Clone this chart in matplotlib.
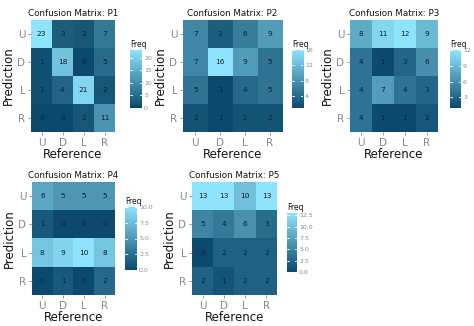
import numpy as np
import matplotlib
matplotlib.use("Agg")
import matplotlib.pyplot as plt
from matplotlib.colors import LinearSegmentedColormap, Normalize
from matplotlib.ticker import FormatStrFormatter

classes = ["U", "D", "L", "R"]

# rows = Prediction (U, D, L, R), columns = Reference (U, D, L, R)
p1 = [[23, 3, 2, 7], [1, 18, 0, 5], [1, 4, 21, 2], [0, 0, 2, 11]]
p2 = [[7, 3, 6, 9], [7, 16, 9, 5], [5, 1, 4, 5], [2, 1, 2, 2]]
p3 = [[8, 11, 12, 9], [4, 1, 3, 6], [4, 7, 4, 3], [4, 1, 1, 2]]
p4 = [[6, 5, 5, 5], [1, 0, 0, 0], [8, 9, 10, 8], [0, 1, 0, 2]]
p5 = [[13, 13, 10, 13], [5, 4, 6, 3], [0, 2, 2, 2], [2, 1, 2, 2]]

names = ["P1", "P2", "P3", "P4", "P5"]
matrices = [p1, p2, p3, p4, p5]
cbar_ticks = [[0, 5, 10, 15, 20], [4, 8, 12, 16], [3, 6, 9, 12],
              [0.0, 2.5, 5.0, 7.5, 10.0], [0.0, 2.5, 5.0, 7.5, 10.0, 12.5]]
cbar_fmt = ["%d", "%d", "%d", "%.1f", "%.1f"]

W, H = 474, 326
DPI = 100

# pixel boxes (left, top, right, bottom) for tiles and colour bars
tile_boxes = [(31, 20, 115, 132), (183, 20, 282, 132), (350, 20, 438, 132),
              (32, 182, 115, 295), (192, 182, 277, 295)]
cbar_boxes = [(130, 50, 142, 108), (292, 50, 303, 108), (450, 50, 461, 108),
              (125, 207, 137, 270), (287, 213, 297, 272)]

cmap = LinearSegmentedColormap.from_list("freq", ["#0b4a6c", "#8fe4fd"])
grey = "#8a8a8a"

fig = plt.figure(figsize=(W / DPI, H / DPI), dpi=DPI)
fig.patch.set_facecolor("white")


def box_to_rect(b):
    l, t, r, btm = b
    return [l / W, 1 - btm / H, (r - l) / W, (btm - t) / H]


for name, mat, box, cbox, ticks, fmt in zip(names, matrices, tile_boxes,
                                             cbar_boxes, cbar_ticks, cbar_fmt):
    data = np.array(mat, dtype=float)
    norm = Normalize(vmin=data.min(), vmax=data.max())
    ax = fig.add_axes(box_to_rect(box))
    ax.imshow(data, cmap=cmap, norm=norm, aspect="auto",
              interpolation="nearest")
    for i in range(4):
        for j in range(4):
            ax.text(j, i, f"{int(data[i, j])}", ha="center", va="center",
                    fontsize=5.3, color="#1c1c2a")
    ax.set_xticks(range(4))
    ax.set_yticks(range(4))
    ax.set_xticklabels(classes)
    ax.set_yticklabels(classes)
    ax.tick_params(axis="both", colors=grey, labelcolor=grey, labelsize=7.5,
                   length=2, width=0.6, pad=2)
    for s in ax.spines.values():
        s.set_visible(False)
    ax.set_xlabel("Reference", fontsize=8.5, labelpad=0, color="#111111")
    ax.set_ylabel("Prediction", fontsize=8.5, labelpad=2, color="#111111")
    ax.set_title(f"Confusion Matrix: {name}", fontsize=6.3, pad=3,
                 color="#111111")

    cax = fig.add_axes(box_to_rect(cbox))
    grad = np.linspace(data.min(), data.max(), 256).reshape(-1, 1)
    cax.imshow(grad, cmap=cmap, norm=norm, aspect="auto", origin="lower",
               extent=[0, 1, data.min(), data.max()])
    cax.set_xlim(0, 1)
    cax.set_ylim(data.min(), data.max())
    for tv in ticks:
        cax.plot([0, 0.2], [tv, tv], color="white", lw=0.6)
        cax.plot([0.8, 1], [tv, tv], color="white", lw=0.6)
    cax.set_xticks([])
    cax.set_yticks(ticks)
    cax.yaxis.tick_right()
    cax.yaxis.set_major_formatter(FormatStrFormatter(fmt))
    cax.tick_params(axis="y", length=0, labelsize=4.5, colors=grey,
                    labelcolor=grey, pad=1.5)
    for s in cax.spines.values():
        s.set_visible(False)
    cax.set_title("Freq", fontsize=5.5, loc="left", pad=2, color="#111111")

fig.savefig("out.png", dpi=DPI)
